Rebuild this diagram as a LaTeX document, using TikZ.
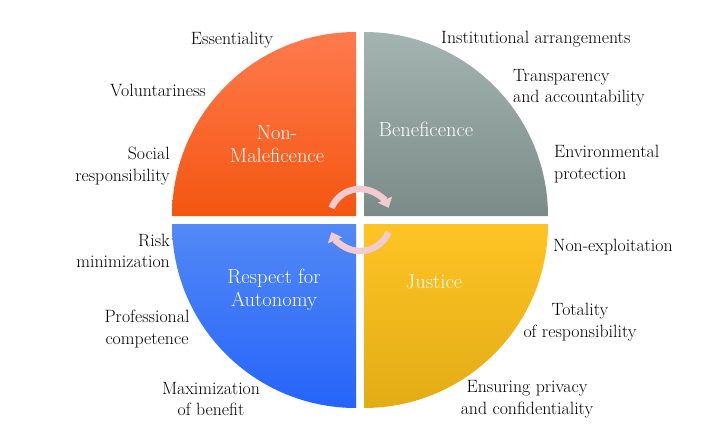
\documentclass[tikz,border=0pt]{standalone}
\usepackage{amsmath}
\usepackage{tikz}
\usetikzlibrary{arrows.meta}
\definecolor{maletop}{RGB}{255,122,78}
\definecolor{malebot}{RGB}{244,86,16}
\definecolor{benetop}{RGB}{164,180,177}
\definecolor{benebot}{RGB}{122,139,136}
\definecolor{resptop}{RGB}{82,137,246}
\definecolor{respbot}{RGB}{38,100,250}
\definecolor{justtop}{RGB}{255,196,36}
\definecolor{justbot}{RGB}{226,172,22}
\definecolor{cyclepink}{RGB}{242,202,210}

\begin{document}
\begin{tikzpicture}[x=1pt,y=1pt,
  outer/.style={inner sep=0pt,font=\fontsize{17.8}{21.5}\selectfont},
  inner/.style={inner sep=0pt,text=white,align=center,font=\fontsize{20.5}{23}\selectfont},
  cycarrow/.style={line width=6.5pt,draw=cyclepink,-{Triangle[length=9pt,width=15pt]}}]
  \useasboundingbox (0,0) rectangle (720,440);
  \foreach \cx/\cy/\a/\tc/\bc in {356/224/90/maletop/malebot,364/224/0/benetop/benebot,
      356/216/180/resptop/respbot,364/216/270/justtop/justbot}
    \shade[top color=\tc,bottom color=\bc] (\cx,\cy) -- ++(\a:184pt)
      arc[start angle=\a,end angle=\a+90,radius=184pt] -- cycle;
  \draw[cycarrow] (360,220) ++(157:31pt) arc[start angle=157,end angle=23,radius=31pt];
  \draw[cycarrow] (360,220) ++(-23:31pt) arc[start angle=-23,end angle=-157,radius=31pt];

  \node[inner] (nonmal) at (277,296) {Non-\\Maleficence};
  \node[inner] (benef) at (426,311) {Beneficence};
  \node[inner] (respaut) at (274,150) {Respect for\\Autonomy};
  \node[inner] (justice) at (434,158) {Justice};

  \node[outer] (essen) at (232,400) {Essentiality};
  \node[outer] (volun) at (158,350) {Voluntariness};
  \node[outer,align=right,anchor=east] (socresp) at (170,274) {Social\\responsibility};
  \node[outer,align=right,anchor=east] (riskmin) at (170,189) {Risk\\minimization};
  \node[outer,align=center] (profcomp) at (147,111) {Professional\\competence};
  \node[outer,align=center] (maxben) at (211,41) {Maximization\\of benefit};
  \node[outer,anchor=west] (instarr) at (441,401) {Institutional arrangements};
  \node[outer,align=left,anchor=west] (transp) at (513,352) {Transparency\\and accountability};
  \node[outer,align=left,anchor=west] (envprot) at (554,276) {Environmental\\protection};
  \node[outer,anchor=west] (nonexp) at (553,193) {Non-exploitation};
  \node[outer,align=center] (totresp) at (580,118) {Totality\\of responsibility};
  \node[outer,align=center] (ensure) at (527,41) {Ensuring privacy\\and confidentiality};
\end{tikzpicture}
\end{document}
